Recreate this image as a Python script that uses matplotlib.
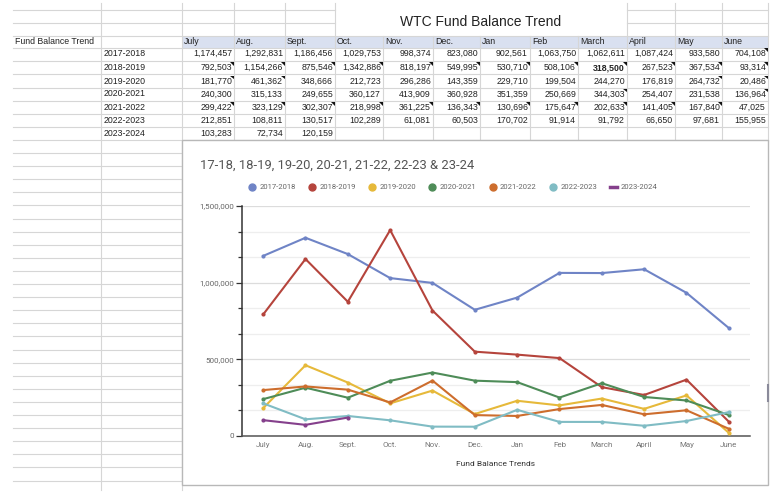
import numpy as np
import matplotlib.pyplot as plt
import matplotlib.ticker as mticker
from matplotlib.lines import Line2D
from matplotlib.patches import Rectangle, Polygon

# ---- data ----
months = ["July", "Aug.", "Sept.", "Oct.", "Nov.", "Dec.", "Jan", "Feb",
          "March", "April", "May", "June"]
years = ["2017-2018", "2018-2019", "2019-2020", "2020-2021",
         "2021-2022", "2022-2023", "2023-2024"]

fy_2017 = [1174457, 1292831, 1186456, 1029753, 998374, 823080, 902561, 1063750, 1062611, 1087424, 933580, 704108]
fy_2018 = [792503, 1154266, 875546, 1342886, 818197, 549995, 530710, 508106, 318500, 267523, 367534, 93314]
fy_2019 = [181770, 461362, 348666, 212723, 296286, 143359, 229710, 199504, 244270, 176819, 264732, 20486]
fy_2020 = [240300, 315133, 249655, 360127, 413909, 360928, 351359, 250669, 344303, 254407, 231538, 136964]
fy_2021 = [299422, 323129, 302307, 218998, 361225, 136343, 130696, 175647, 202633, 141405, 167840, 47025]
fy_2022 = [212851, 108811, 130517, 102289, 61081, 60503, 170702, 91914, 91792, 66650, 97681, 155955]
fy_2023 = [103283, 72734, 120159]

series = [fy_2017, fy_2018, fy_2019, fy_2020, fy_2021, fy_2022, fy_2023]
colors = ["#6f84c6", "#b5443c", "#e6b93a", "#4e8c58", "#cd6d2d", "#80bcc4", "#85408c"]

# cells carrying a comment marker (row, month index)
comment_cells = [(0, 11)] + [(1, c) for c in range(12)] + [(2, 0), (2, 1), (2, 10), (2, 11),
                 (3, 8), (3, 11)] + [(4, c) for c in range(11)]
bold_cells = [(1, 8)]

W, H = 781, 500
fig = plt.figure(figsize=(W / 100, H / 100), dpi=100)
fig.patch.set_facecolor("white")

# ---- spreadsheet background, drawn in pixel coordinates ----
bg = fig.add_axes([0, 0, 1, 1])
bg.set_xlim(0, W)
bg.set_ylim(H, 0)
bg.axis("off")

grid_c = "#d6d6d6"
col_x = [101, 182, 234, 285, 335, 383, 433, 480, 530, 578, 627, 675, 722, 768]
row_y = [47.5, 61, 74, 87.5, 100.5, 114, 127, 140]
lower_rows = np.arange(140 + 13.1, 490, 13.1)

bg.add_patch(Rectangle((182, 36), 768 - 182, 11.5, facecolor="#d9e0f0", edgecolor="none", zorder=0))

for y in [10, 23]:
    bg.plot([13, 335], [y, y], color=grid_c, lw=0.8, zorder=1)
    bg.plot([627, 768], [y, y], color=grid_c, lw=0.8, zorder=1)
for y in [36] + row_y:
    bg.plot([13, 768], [y, y], color=grid_c, lw=0.8, zorder=1)
for y in lower_rows:
    bg.plot([13, 182], [y, y], color=grid_c, lw=0.8, zorder=1)
for x in col_x:
    if 335 < x < 627:
        bg.plot([x, x], [36, 140], color=grid_c, lw=0.8, zorder=1)
    elif x <= 182:
        bg.plot([x, x], [3, 490], color=grid_c, lw=0.8, zorder=1)
    else:
        bg.plot([x, x], [3, 140], color=grid_c, lw=0.8, zorder=1)

tfont = dict(family="Liberation Sans", fontsize=6.3, color="#222222")
bg.text(481, 22, "WTC Fund Balance Trend", ha="center", va="center",
        family="Liberation Sans", fontsize=10, color="#222222")
bg.text(15, 42, "Fund Balance Trend", ha="left", va="center", **tfont)
for j, m in enumerate(months):
    bg.text(col_x[j + 1] + 2, 42, m, ha="left", va="center", **tfont)

row_mid = [53.5, 67.5, 81, 94, 107.5, 120.5, 133.5]
for i, (yr, vals) in enumerate(zip(years, series)):
    bg.text(104, row_mid[i], yr, ha="left", va="center", **tfont)
    for j, v in enumerate(vals):
        weight = "bold" if (i, j) in bold_cells else "normal"
        bg.text(col_x[j + 2] - 2, row_mid[i], f"{v:,}", ha="right", va="center",
                fontweight=weight, **tfont)

for i, j in comment_cells:
    xr = col_x[j + 2] - 0.5
    yt = row_mid[i] - 5.5
    bg.add_patch(Polygon([(xr - 3.5, yt), (xr, yt), (xr, yt + 3.5)], closed=True,
                         facecolor="#111111", edgecolor="none", zorder=2))

# chart container
bg.add_patch(Rectangle((182, 140), 768 - 182, 485 - 140, facecolor="white",
                       edgecolor="#b8b8b8", lw=1.0, zorder=3))
bg.plot([768, 768], [385, 401], color="#8a8a9a", lw=1.5, zorder=4)

bg.text(200, 165, "17-18, 18-19, 19-20, 20-21, 21-22, 22-23 & 23-24", ha="left", va="center",
        family="Roboto", fontsize=9.4, color="#555555", zorder=4)

# ---- line chart ----
ax = fig.add_axes([242 / W, (H - 436) / H, (750 - 242) / W, (436 - 206) / H])
ax.set_facecolor("white")
x = np.arange(len(months))
for yr, vals, c in zip(years, series, colors):
    ax.plot(x[:len(vals)], vals, color=c, lw=1.5, marker="o", markersize=2, label=yr, zorder=3)

ax.set_xlim(-0.5, len(months) - 0.5)
ax.set_ylim(0, 1500000)
ax.set_xticks(x)
ax.set_xticklabels(months)
ax.yaxis.set_major_locator(mticker.FixedLocator([0, 500000, 1000000, 1500000]))
ax.yaxis.set_minor_locator(mticker.MultipleLocator(500000 / 3))
ax.yaxis.set_major_formatter(mticker.FuncFormatter(lambda v, p: f"{int(v):,}"))
ax.grid(which="major", axis="y", color="#dcdcdc", lw=0.9, zorder=0)
ax.grid(which="minor", axis="y", color="#eeeeee", lw=0.9, zorder=0)
for s in ["top", "right"]:
    ax.spines[s].set_visible(False)
ax.spines["left"].set_color("#333333")
ax.spines["left"].set_linewidth(1.1)
ax.spines["bottom"].set_color("#555555")
ax.spines["bottom"].set_linewidth(1.1)
ax.tick_params(axis="x", length=0, pad=4, labelsize=5.8, labelcolor="#777777")
ax.tick_params(axis="y", which="major", length=4, width=0.9, color="#333333",
               labelsize=5.8, labelcolor="#666666", pad=2)
ax.tick_params(axis="y", which="minor", length=3, width=0.9, color="#333333")
for lab in ax.get_xticklabels() + ax.get_yticklabels():
    lab.set_family("Roboto")
ax.set_xlabel("Fund Balance Trends", family="Roboto", fontsize=6, color="#333333", labelpad=10)

handles = [Line2D([], [], marker="o", linestyle="", markersize=5, color=c) for c in colors[:-1]]
handles.append(Line2D([0, 1], [0, 0], color=colors[-1], lw=2.5))
fig.legend(handles, years, loc="center", bbox_to_anchor=(453 / W, 1 - 187 / H), ncol=7,
           frameon=False, prop={"family": "Roboto", "size": 5.5}, labelcolor="#666666",
           handlelength=0.9, handletextpad=0.5, columnspacing=1.7)

fig.savefig("out.png", dpi=100)
